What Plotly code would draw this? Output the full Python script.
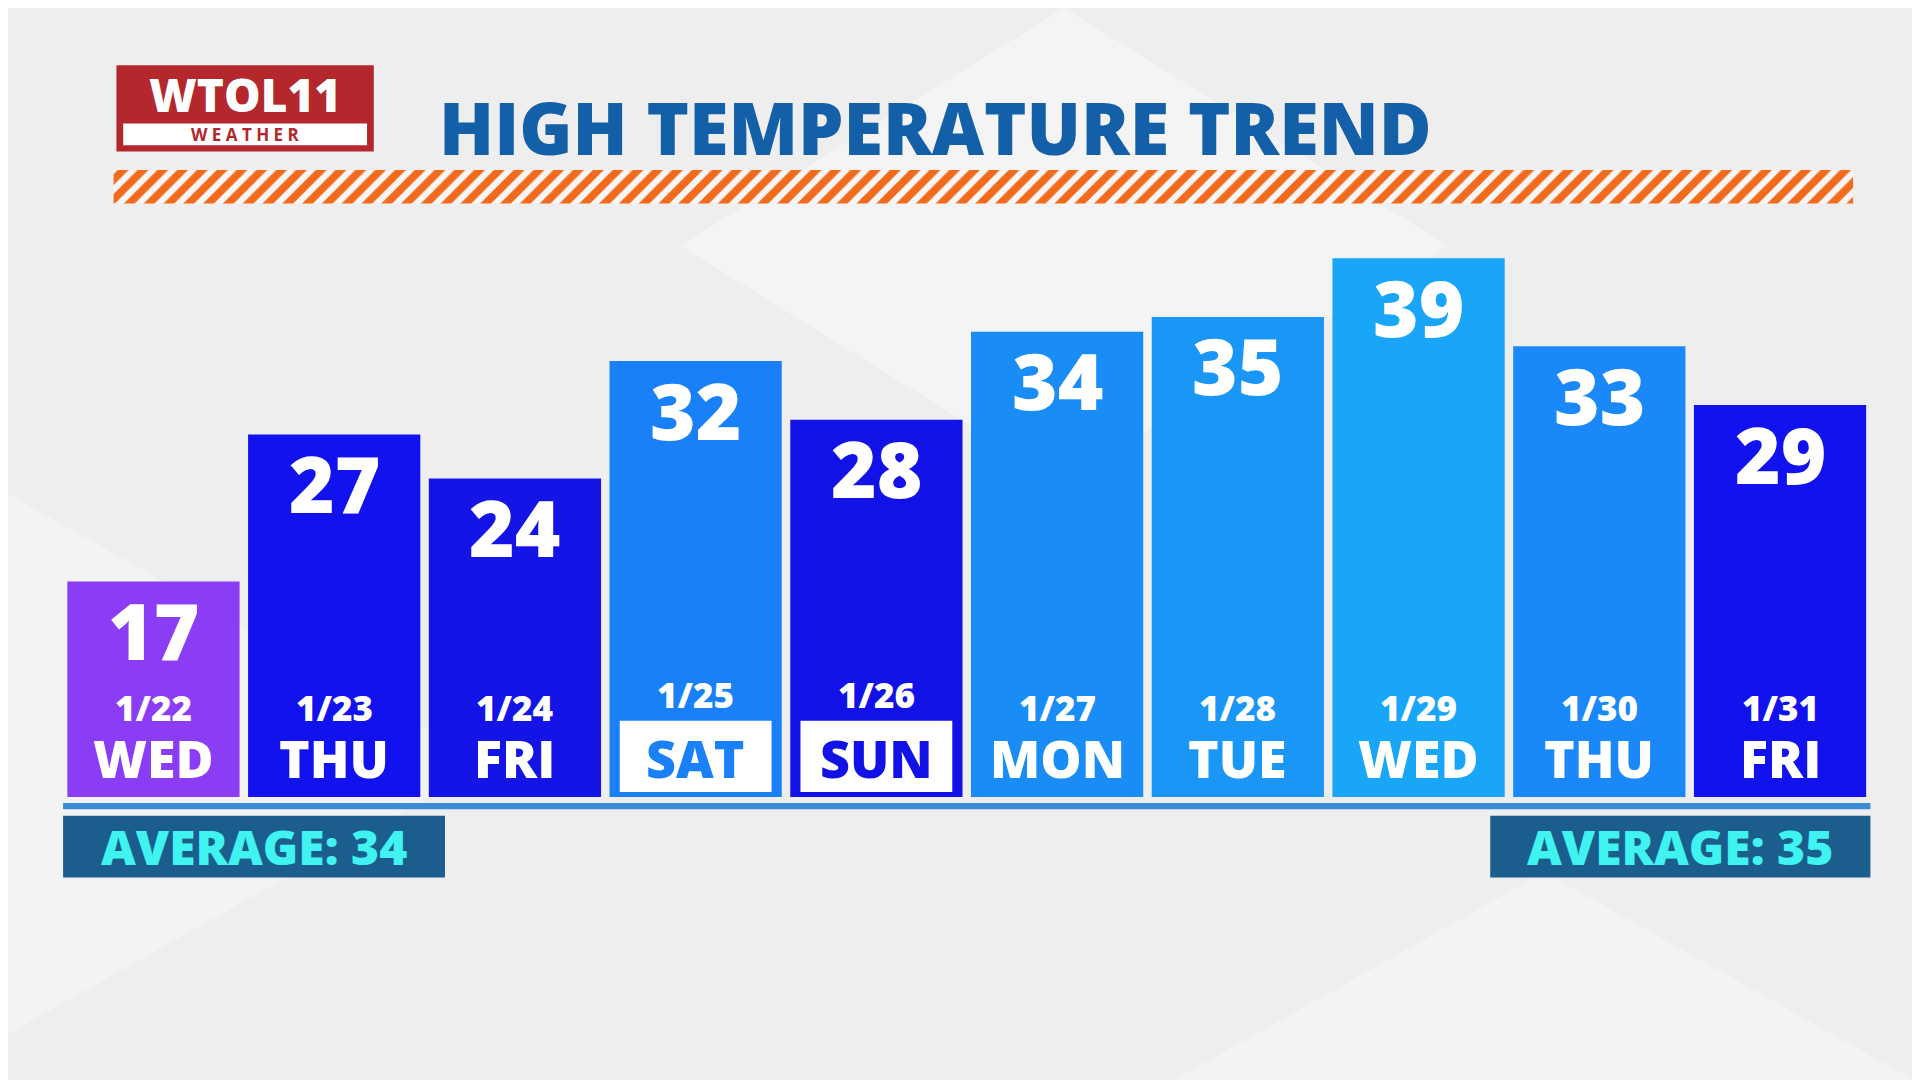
import plotly.graph_objects as go

dates = ["1/22","1/23","1/24","1/25","1/26","1/27","1/28","1/29","1/30","1/31"]
days = ["WED","THU","FRI","SAT","SUN","MON","TUE","WED","THU","FRI"]
highs = [17,27,24,32,28,34,35,39,33,29]
colors = ["#8b3df5","#1212ee","#1414e6","#1a80f8","#1212e6","#1a8cf5","#1a96f6","#19a6f8","#1a88f8","#1212ee"]
weekend = [False,False,False,True,True,False,False,False,False,False]
avg_left, avg_right = 34, 35
base_val = 2.33

F = "Open Sans"
fig = go.Figure()
fig.add_trace(go.Bar(x=list(range(len(highs))), y=[h-base_val for h in highs], base=base_val,
                     marker=dict(color=colors, line=dict(width=0)), hoverinfo="skip"))
fig.add_trace(go.Scatter(x=[0.055,0.961,0.961,0.055,0.055], y=[0.819,0.819,0.85,0.85,0.819],
                         xaxis="x2", yaxis="y2", mode="lines", line=dict(width=0),
                         fill="toself", fillcolor="rgba(0,0,0,0)",
                         fillpattern=dict(shape="/", fgcolor="#f26b1d", fgopacity=1, bgcolor="#f6f6f6",
                                          size=14, solidity=0.55),
                         hoverinfo="skip"))

def A(**kw):
    kw.setdefault("xanchor", "center"); kw.setdefault("yanchor", "middle"); kw.setdefault("showarrow", False)
    return kw

ann = []
shapes = []
for i,(d,w,h,we) in enumerate(zip(dates,days,highs,weekend)):
    ann.append(A(x=i, y=h-3.3, xref="x", yref="y", text=str(h),
                 font=dict(family=F, size=78, color="white", weight=800)))
    ann.append(A(x=i, y=0.364 if we else 0.352, xref="x", yref="paper", text=d,
                 font=dict(family=F, size=35, color="white", weight=800)))
    if we:
        shapes.append(dict(type="rect", xref="x", yref="paper", x0=i-0.42, x1=i+0.42, y0=0.274, y1=0.340,
                           fillcolor="white", line=dict(width=0)))
    ann.append(A(x=i, y=0.306, xref="x", yref="paper", text=w,
                 font=dict(family=F, size=52, color=colors[i] if we else "white", weight=800)))

shapes.append(dict(type="rect", xref="paper", yref="paper", x0=0.0287, x1=0.970, y0=0.258, y1=0.264,
                   fillcolor="#3a8ad6", line=dict(width=0)))
for x0,x1,v in [(0.0287,0.2276,avg_left),(0.772,0.970,avg_right)]:
    shapes.append(dict(type="rect", xref="paper", yref="paper", x0=x0, x1=x1, y0=0.195, y1=0.252,
                       fillcolor="#1b5d8c", line=dict(width=0)))
    ann.append(A(x=(x0+x1)/2, y=0.2235, xref="paper", yref="paper", text=f"AVERAGE: {v}",
                 font=dict(family=F, size=48, color="#40f2f0", weight=800)))
shapes.append(dict(type="rect", xref="paper", yref="paper", x0=0.057, x1=0.190, y0=0.868, y1=0.946,
                   fillcolor="#b3272d", line=dict(color="#b3272d", width=2)))
shapes.append(dict(type="rect", xref="paper", yref="paper", x0=0.060, x1=0.187, y0=0.873, y1=0.893,
                   fillcolor="white", line=dict(width=0)))
ann.append(A(x=0.1235, y=0.920, xref="paper", yref="paper", text="WTOL11",
             font=dict(family=F, size=46, color="white", weight=800)))
ann.append(A(x=0.1235, y=0.883, xref="paper", yref="paper", text="W E A T H E R",
             font=dict(family=F, size=17, color="#b3272d", weight=700)))
ann.append(A(x=0.483, y=0.89, xref="paper", yref="paper", text="HIGH TEMPERATURE TREND",
             font=dict(family=F, size=72, color="#1460a8", weight=800)))
bgshapes = [
    dict(type="path", xref="paper", yref="paper", path="M 0.35 0.78 L 0.55 1.0 L 0.75 0.78 L 0.55 0.56 Z",
         fillcolor="rgba(255,255,255,0.35)", line=dict(width=0), layer="below"),
    dict(type="path", xref="paper", yref="paper", path="M 0.0 0.55 L 0.25 0.3 L 0.0 0.05 Z",
         fillcolor="rgba(255,255,255,0.3)", line=dict(width=0), layer="below"),
    dict(type="path", xref="paper", yref="paper", path="M 0.6 0.0 L 0.8 0.2 L 1.0 0.0 Z",
         fillcolor="rgba(255,255,255,0.3)", line=dict(width=0), layer="below"),
]

fig.update_layout(
    width=1920, height=1080, margin=dict(l=0,r=0,t=0,b=0),
    paper_bgcolor="#eeeeee", plot_bgcolor="rgba(0,0,0,0)", showlegend=False, bargap=0.047,
    xaxis=dict(domain=[0.0287,0.970], range=[-0.5,9.5], visible=False, fixedrange=True, anchor="y"),
    yaxis=dict(domain=[0.2694,0.8296], range=[base_val,43.5], visible=False, fixedrange=True, anchor="x"),
    xaxis2=dict(domain=[0,1], range=[0,1], visible=False, anchor="y2"),
    yaxis2=dict(domain=[0,1], range=[0,1], visible=False, anchor="x2"),
    annotations=ann, shapes=bgshapes+shapes,
)
fig.write_html("out.html")
